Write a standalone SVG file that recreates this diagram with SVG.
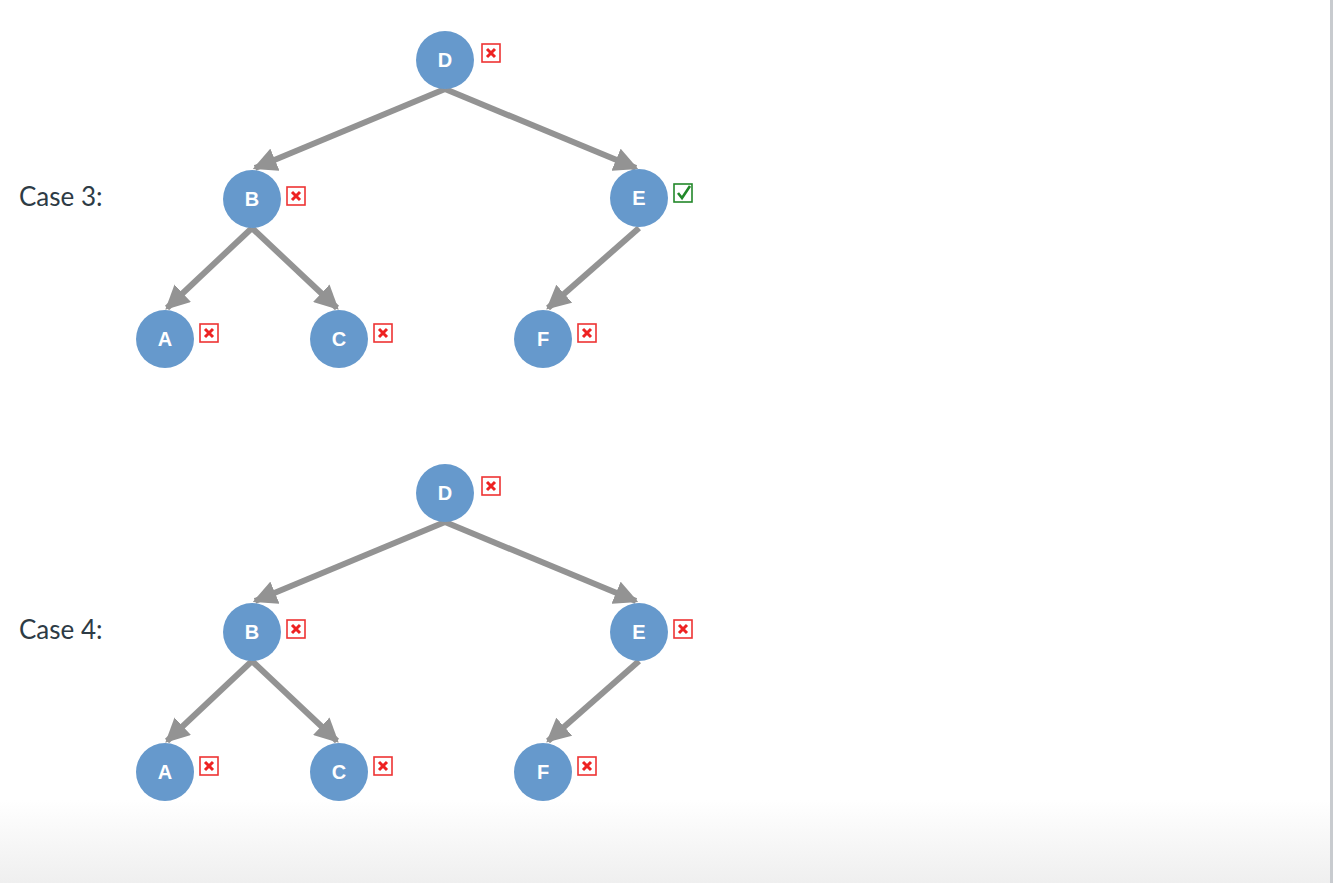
<svg xmlns="http://www.w3.org/2000/svg" width="1333" height="883" viewBox="0 0 1333 883">
<style>
.n circle{fill:#6699cc}
.n text{fill:#fff;font:bold 20px "Liberation Sans",Arial,sans-serif;text-anchor:middle}
.x rect{fill:#fff;stroke:#ee3333;stroke-width:1.6}
.x path{stroke:#ee2222;stroke-width:3;fill:none}
.ok rect{fill:#fff;stroke:#22882a;stroke-width:1.6}
.ok path{stroke:#22882a;stroke-width:2.6;fill:none}
.e line{stroke:#939393;stroke-width:6}
.lbl{font:26px Lato,"Liberation Sans",sans-serif;fill:#2d3b45}
</style>
<defs>
<linearGradient id="g" x1="0" y1="0" x2="0" y2="1"><stop offset="0" stop-color="#fff"/><stop offset="1" stop-color="#efefef"/></linearGradient>
<marker id="ar" viewBox="0 0 10 10" refX="9" refY="5" markerWidth="4" markerHeight="4" orient="auto" markerUnits="strokeWidth"><path d="M0,0L10,5L0,10z" fill="#939393"/></marker>
<g id="xm" class="x"><rect x="0" y="0" width="18" height="18"/><path d="M5,5L13,13M13,5L5,13"/></g>
<g id="ck" class="ok"><rect x="0" y="0" width="18" height="18"/><path d="M4,9L8,14L16,2"/></g>
</defs>
<rect width="1333" height="883" fill="#fff"/>
<rect y="800" width="1333" height="83" fill="url(#g)"/>
<line x1="1331.5" y1="0" x2="1331.5" y2="883" stroke="#c8cbcf" stroke-width="3"/>
<text class="lbl" x="19" y="206">Case 3:</text>
<text class="lbl" x="19" y="639">Case 4:</text>
<g id="edges" class="e">
<line x1="445" y1="89" x2="255" y2="168" marker-end="url(#ar)"/>
<line x1="445" y1="89" x2="636" y2="168" marker-end="url(#ar)"/>
<line x1="252" y1="228" x2="167" y2="308" marker-end="url(#ar)"/>
<line x1="252" y1="228" x2="337" y2="308" marker-end="url(#ar)"/>
<line x1="639" y1="228" x2="548" y2="308" marker-end="url(#ar)"/>
<line x1="445" y1="522" x2="255" y2="601" marker-end="url(#ar)"/>
<line x1="445" y1="522" x2="636" y2="601" marker-end="url(#ar)"/>
<line x1="252" y1="661" x2="167" y2="741" marker-end="url(#ar)"/>
<line x1="252" y1="661" x2="337" y2="741" marker-end="url(#ar)"/>
<line x1="639" y1="661" x2="548" y2="741" marker-end="url(#ar)"/>
</g>
<g id="D3" class="n"><circle cx="445" cy="60" r="29"/><text x="445" y="67">D</text><use href="#xm" x="482" y="44"/></g>
<g id="B3" class="n"><circle cx="252" cy="199" r="29"/><text x="252" y="206">B</text><use href="#xm" x="287" y="187"/></g>
<g id="E3" class="n"><circle cx="639" cy="198" r="29"/><text x="639" y="205">E</text><use href="#ck" x="674" y="184"/></g>
<g id="A3" class="n"><circle cx="165" cy="339" r="29"/><text x="165" y="346">A</text><use href="#xm" x="200" y="324"/></g>
<g id="C3" class="n"><circle cx="339" cy="339" r="29"/><text x="339" y="346">C</text><use href="#xm" x="374" y="324"/></g>
<g id="F3" class="n"><circle cx="543" cy="339" r="29"/><text x="543" y="346">F</text><use href="#xm" x="578" y="324"/></g>
<g id="D4" class="n"><circle cx="445" cy="493" r="29"/><text x="445" y="500">D</text><use href="#xm" x="482" y="477"/></g>
<g id="B4" class="n"><circle cx="252" cy="632" r="29"/><text x="252" y="639">B</text><use href="#xm" x="287" y="620"/></g>
<g id="E4" class="n"><circle cx="639" cy="632" r="29"/><text x="639" y="639">E</text><use href="#xm" x="674" y="620"/></g>
<g id="A4" class="n"><circle cx="165" cy="772" r="29"/><text x="165" y="779">A</text><use href="#xm" x="200" y="757"/></g>
<g id="C4" class="n"><circle cx="339" cy="772" r="29"/><text x="339" y="779">C</text><use href="#xm" x="374" y="757"/></g>
<g id="F4" class="n"><circle cx="543" cy="772" r="29"/><text x="543" y="779">F</text><use href="#xm" x="578" y="757"/></g>
</svg>
